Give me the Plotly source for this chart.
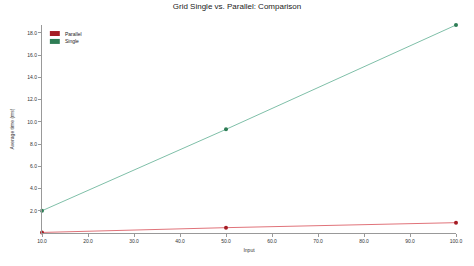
import plotly.graph_objects as go

inputs = [10, 50, 100]
parallel = [0.05, 0.48, 0.93]
single = [2.0, 9.32, 18.7]
series_names = ["Parallel", "Single"]
marker_colors = ["#a51c24", "#2e7d55"]
line_colors = ["#e0737a", "#7fbfa8"]
y_ticks = [2, 4, 6, 8, 10, 12, 14, 16, 18]
x_ticks = [10, 20, 30, 40, 50, 60, 70, 80, 90, 100]

fig = go.Figure()
for name, vals, mc, lc in zip(series_names, [parallel, single], marker_colors, line_colors):
    fig.add_trace(go.Scatter(x=inputs, y=vals, mode="lines+markers", name=name,
                             line=dict(color=lc, width=1), marker=dict(color=mc, size=4),
                             showlegend=False, cliponaxis=False))

font_family = "Liberation Sans, Arial, sans-serif"
axis_font = dict(family=font_family, size=5, color="#333")

# manual legend (colored rectangles + labels)
for i, (name, mc) in enumerate(zip(series_names, marker_colors)):
    top = 0.971 - i * 0.038
    fig.add_shape(type="rect", xref="paper", yref="paper", x0=0.019, x1=0.043,
                  y0=top - 0.024, y1=top, fillcolor=mc, line=dict(width=0))
    fig.add_annotation(xref="paper", yref="paper", x=0.05, y=top - 0.012, text=name,
                       showarrow=False, xanchor="left", yanchor="middle",
                       font=dict(family=font_family, size=5, color="#222"))

fig.update_layout(
    width=474, height=266,
    margin=dict(l=42, r=14, t=25, b=33),
    paper_bgcolor="white", plot_bgcolor="white",
    title=dict(text="Grid Single vs. Parallel: Comparison", x=0.5, xanchor="center", y=0.977, yanchor="middle",
               font=dict(family=font_family, size=8, color="#222")),
    showlegend=False,
    xaxis=dict(range=[10, 100], tickvals=x_ticks, tickformat=".1f", showgrid=False, zeroline=False,
               showline=True, linecolor="#999", linewidth=1, ticks="outside", ticklen=3, tickcolor="#999",
               tickfont=axis_font, title=dict(text="Input", font=axis_font, standoff=5)),
    yaxis=dict(range=[0, 18.7], tickvals=y_ticks, tickformat=".1f", showgrid=False, zeroline=False,
               showline=True, linecolor="#999", linewidth=1, ticks="outside", ticklen=3, tickcolor="#999",
               tickfont=axis_font, title=dict(text="Average time (ms)", font=axis_font, standoff=12)),
)
fig.write_html("out.html")
